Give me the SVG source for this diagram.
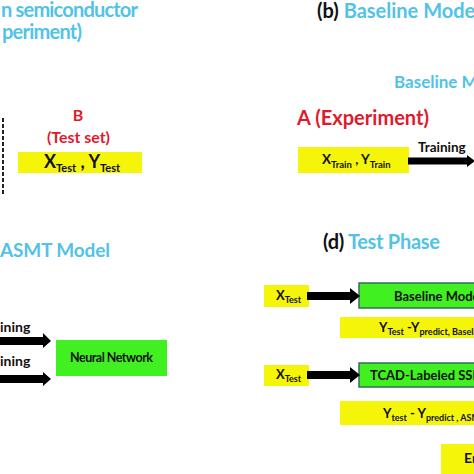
<svg xmlns="http://www.w3.org/2000/svg" width="474" height="474" viewBox="0 0 474 474">
<style>
text{font-family:Lato,"Liberation Sans",sans-serif;font-weight:bold}
.cy{fill:#52c3e6}
.rd{fill:#df1a2d}
.k{fill:#111}
.yb{fill:#f5f50a}
.gb{fill:#40f020}
.gbs{fill:#40f020;stroke:#356b5a;stroke-width:1.5}
.ar{fill:#000}
</style>
<rect width="474" height="474" fill="#fff"/>
<g id="titles">
<text class="cy" x="1" y="17" font-size="20" textLength="137">n semiconductor</text>
<text class="cy" x="2" y="39" font-size="20" textLength="80">periment)</text>
<text x="317" y="18" font-size="20"><tspan class="k">(b)</tspan><tspan class="cy"> Baseline Mode</tspan></text>
<text class="cy" x="394" y="88" font-size="17">Baseline M</text>
<text class="cy" x="0" y="257" font-size="19" textLength="110">ASMT Model</text>
<text x="323" y="249" font-size="20" textLength="117"><tspan class="k">(d)</tspan><tspan class="cy"> Test Phase</tspan></text>
</g>
<g id="divider"><line x1="3" y1="118" x2="3" y2="194" stroke="#222" stroke-width="2" stroke-dasharray="4,2"/></g>
<g id="testset">
<text class="rd" x="78" y="121" font-size="16" text-anchor="middle">B</text>
<text class="rd" x="47" y="143" font-size="16" textLength="63">(Test set)</text>
<rect class="yb" x="18" y="152" width="124" height="21"/>
<text class="k" x="44" y="168" font-size="18">X<tspan font-size="11" dy="4">Test</tspan><tspan dy="-4"> , Y</tspan><tspan font-size="11" dy="4">Test</tspan></text>
</g>
<g id="experiment">
<text class="rd" x="297" y="125" font-size="20" textLength="132">A (Experiment)</text>
<rect class="yb" x="298" y="147" width="111" height="26"/>
<text class="k" x="322" y="164" font-size="13.5">X<tspan font-size="9.5" dy="4">Train</tspan><tspan dy="-4"> , Y</tspan><tspan font-size="9.5" dy="4">Train</tspan></text>
</g>
<g id="neuralnet">
<rect class="gb" x="56" y="340" width="111" height="36"/>
<text class="k" x="70" y="362" font-size="12.5" textLength="83">Neural Network</text>
</g>
<g id="xtest1">
<rect class="yb" x="264" y="285" width="45" height="22"/>
<text class="k" x="276" y="300" font-size="13">X<tspan font-size="9" dy="3">Test</tspan></text>
</g>
<g id="baselinemodel">
<rect class="gbs" x="359" y="283" width="120" height="25"/>
<text class="k" x="394" y="301" font-size="13">Baseline Mode</text>
</g>
<g id="diff1">
<rect class="yb" x="340" y="317" width="140" height="21"/>
<text class="k" x="379" y="332" font-size="13">Y<tspan font-size="9" dy="3">Test</tspan><tspan dy="-3"> -Y</tspan><tspan font-size="9" dy="3">predict, Baseline</tspan></text>
</g>
<g id="xtest2">
<rect class="yb" x="264" y="365" width="45" height="21"/>
<text class="k" x="276" y="379" font-size="13">X<tspan font-size="9" dy="3">Test</tspan></text>
</g>
<g id="tcadmodel">
<rect class="gbs" x="359" y="363" width="120" height="24"/>
<text class="k" x="370" y="380" font-size="13">TCAD-Labeled SSL M</text>
</g>
<g id="diff2">
<rect class="yb" x="340" y="401" width="140" height="24"/>
<text class="k" x="383" y="418" font-size="13">Y<tspan font-size="9" dy="3">test</tspan><tspan dy="-3"> - Y</tspan><tspan font-size="9" dy="3">predict , ASMT</tspan></text>
</g>
<g id="error">
<rect class="yb" x="441" y="444" width="40" height="35"/>
<text class="k" x="464" y="463" font-size="14">Er</text>
</g>
<g id="connectors">
<polygon class="ar" points="408,157.5 467,157.5 467,155 475,161 467,167 467,164.5 408,164.5"/>
<text class="k" x="418" y="152" font-size="13.5">Training</text>
<polygon class="ar" points="-2,337 43,337 43,333 51,341 43,348 43,345 -2,345"/>
<text class="k" x="0" y="332" font-size="14">ining</text>
<polygon class="ar" points="-2,375 43,375 43,372 51,379 43,386 43,383 -2,383"/>
<text class="k" x="0" y="366" font-size="14">ining</text>
<polygon class="ar" points="307,292 350,292 350,288 360,296 350,304 350,300 307,300"/>
<polygon class="ar" points="307,371 350,371 350,367 360,375 350,383 350,379 307,379"/>
</g>
</svg>
